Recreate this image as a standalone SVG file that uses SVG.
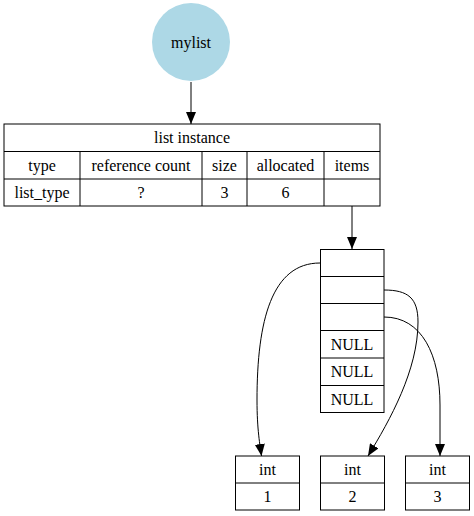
<svg xmlns="http://www.w3.org/2000/svg" width="474" height="516" viewBox="0 0 474 516">
<style>
text{font-family:"Liberation Serif","Times New Roman",serif;font-size:16px;fill:#000;text-anchor:middle}
.c{fill:#fff;stroke:#000;stroke-width:1}
.e{fill:none;stroke:#000;stroke-width:1}
</style>
<defs>
<marker id="ah" markerWidth="12" markerHeight="10" refX="12" refY="5" orient="auto" markerUnits="userSpaceOnUse">
<path d="M0,0 L12,5 L0,10 Z" fill="#000"/>
</marker>
</defs>
<rect width="474" height="516" fill="#fff"/>
<g id="mylist">
<circle cx="191" cy="42" r="39" fill="#add8e6"/>
<text x="191" y="48">mylist</text>
</g>
<g id="list_instance">
<rect class="c" x="4" y="124" width="376" height="82"/>
<line class="e" x1="4" y1="151.5" x2="380" y2="151.5"/>
<line class="e" x1="4" y1="179" x2="380" y2="179"/>
<line class="e" x1="80" y1="151.5" x2="80" y2="206"/>
<line class="e" x1="202" y1="151.5" x2="202" y2="206"/>
<line class="e" x1="247" y1="151.5" x2="247" y2="206"/>
<line class="e" x1="324" y1="151.5" x2="324" y2="206"/>
<text x="192" y="143">list instance</text>
<text x="42" y="170.5">type</text>
<text x="141" y="170.5">reference count</text>
<text x="224.5" y="170.5">size</text>
<text x="285.5" y="170.5">allocated</text>
<text x="352" y="170.5">items</text>
<text x="42" y="198">list_type</text>
<text x="141" y="198">?</text>
<text x="224.5" y="198">3</text>
<text x="285.5" y="198">6</text>
</g>
<g id="items_array">
<rect class="c" x="320.5" y="249.5" width="63.5" height="163"/>
<line class="e" x1="320.5" y1="276.5" x2="384" y2="276.5"/>
<line class="e" x1="320.5" y1="303.5" x2="384" y2="303.5"/>
<line class="e" x1="320.5" y1="330.5" x2="384" y2="330.5"/>
<line class="e" x1="320.5" y1="358" x2="384" y2="358"/>
<line class="e" x1="320.5" y1="385.5" x2="384" y2="385.5"/>
<text x="352" y="350">NULL</text>
<text x="352" y="377">NULL</text>
<text x="352" y="404.5">NULL</text>
</g>
<g id="int1">
<rect class="c" x="235.5" y="456" width="64" height="54"/>
<line class="e" x1="235.5" y1="483" x2="299.5" y2="483"/>
<text x="267.5" y="475">int</text>
<text x="267.5" y="502">1</text>
</g>
<g id="int2">
<rect class="c" x="320.5" y="456" width="64" height="54"/>
<line class="e" x1="320.5" y1="483" x2="384.5" y2="483"/>
<text x="352.5" y="475">int</text>
<text x="352.5" y="502">2</text>
</g>
<g id="int3">
<rect class="c" x="405.5" y="456" width="64" height="54"/>
<line class="e" x1="405.5" y1="483" x2="469.5" y2="483"/>
<text x="437.5" y="475">int</text>
<text x="437.5" y="502">3</text>
</g>
<g id="edges">
<path class="e" d="M191,82 L191,124" marker-end="url(#ah)"/>
<path class="e" d="M352,206 L352,249" marker-end="url(#ah)"/>
<path class="e" d="M320,263 C272,263 257,320 257,400 C257,430 260,445 261.5,456" marker-end="url(#ah)"/>
<path class="e" d="M384,290 C408,290 418,298 418,322 C418,370 390,420 368,456" marker-end="url(#ah)"/>
<path class="e" d="M384,317 C422,317 440,355 440,405 L440,456" marker-end="url(#ah)"/>
</g>
</svg>
